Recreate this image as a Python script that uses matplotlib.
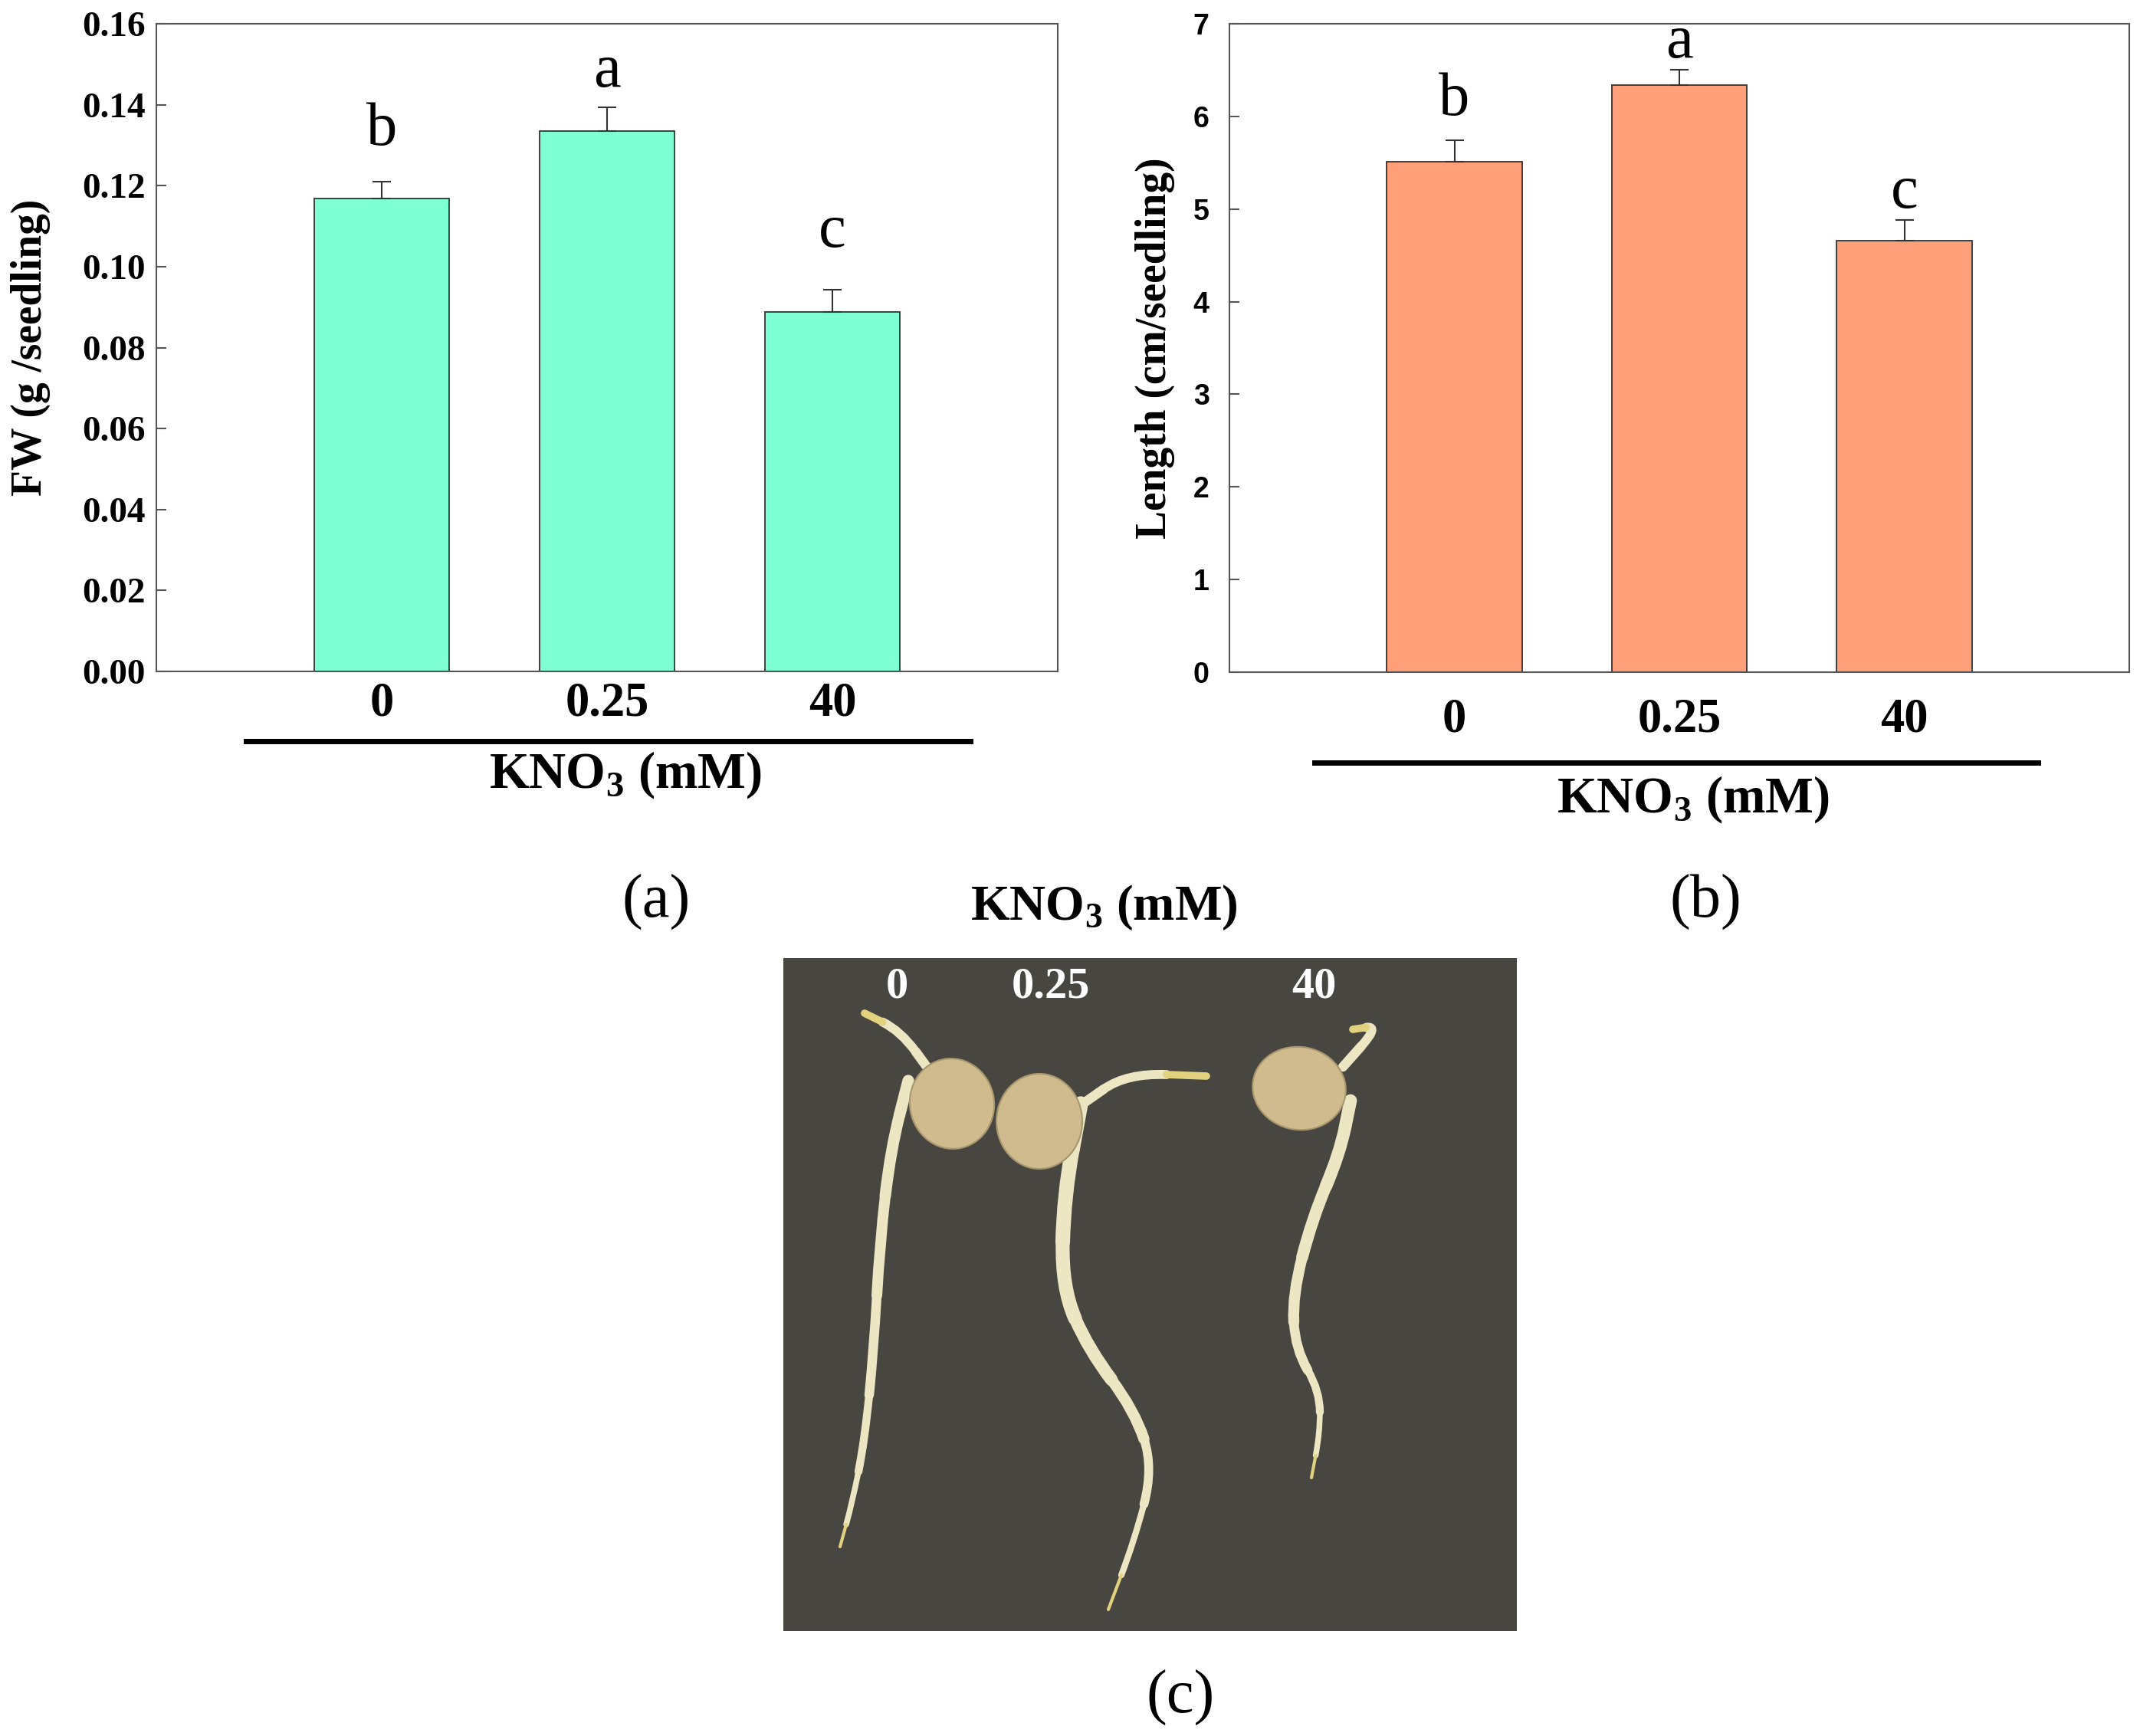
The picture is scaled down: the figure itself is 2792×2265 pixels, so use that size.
import matplotlib
matplotlib.use('Agg')
import matplotlib.pyplot as plt
from matplotlib.lines import Line2D
from matplotlib.patches import Ellipse, PathPatch
from matplotlib.path import Path

# ---------------- data ----------------
categories = ['0', '0.25', '40']
fw_values = [0.1168, 0.1335, 0.0888]
fw_errors = [0.0041, 0.0059, 0.0055]
fw_letters = ['b', 'a', 'c']
fw_letter_offsets = [35, 19, 40]      # points above error bar top
fw_yticks = [0.00, 0.02, 0.04, 0.06, 0.08, 0.10, 0.12, 0.14, 0.16]

len_values = [5.51, 6.34, 4.66]
len_errors = [0.23, 0.16, 0.22]
len_letters = ['b', 'a', 'c']
len_letter_offsets = [24, 12, 12]
len_yticks = [0, 1, 2, 3, 4, 5, 6, 7]

photo_labels = ['0', '0.25', '40']

# ---------------- style ----------------
plt.rcParams['font.family'] = ['Liberation Serif', 'DejaVu Serif']
plt.rcParams['mathtext.fontset'] = 'custom'
plt.rcParams['mathtext.rm'] = 'Liberation Serif'
plt.rcParams['mathtext.bf'] = 'Liberation Serif:bold'

W, H = 2792, 2265
fig = plt.figure(figsize=(W / 100, H / 100), dpi=100)


def rect(x0, y0, x1, y1):
    return [x0 / W, 1 - y1 / H, (x1 - x0) / W, (y1 - y0) / H]


def fpos(x, y):
    return x / W, 1 - y / H


SPINE = '#555555'
EDGE = '#333333'


def bar_panel(ax, values, errors, letters, offsets, color, yticks, ylim,
              ytick_fmt, ytick_font, ytick_size, ytick_pad, xtick_pad,
              ylabel, ylabel_x):
    x = list(range(len(values)))
    ax.bar(x, values, width=0.6, color=color, edgecolor=EDGE, linewidth=1.3,
           zorder=2)
    ax.errorbar(x, values, yerr=[[0] * len(errors), errors], fmt='none',
                ecolor=EDGE, elinewidth=1.5, capsize=8.5, capthick=1.5,
                zorder=3)
    for xi, v, e, lt, off in zip(x, values, errors, letters, offsets):
        ax.annotate(lt, xy=(xi, v + e), xytext=(0, off),
                    textcoords='offset points', ha='center', va='baseline',
                    fontsize=58, family='Liberation Serif')
    ax.set_xlim(-1, 3)
    ax.set_ylim(*ylim)
    ax.set_yticks(yticks)
    ax.set_yticklabels([ytick_fmt.format(t) for t in yticks],
                       family=ytick_font, fontweight='bold',
                       fontsize=ytick_size)
    ax.set_xticks(x)
    ax.set_xticklabels(categories, fontweight='bold', fontsize=45,
                       family='Liberation Serif')
    ax.tick_params(axis='y', direction='in', length=9, width=1.5,
                   color=SPINE, pad=ytick_pad, right=False)
    ax.tick_params(axis='x', length=0, pad=xtick_pad)
    for s in ax.spines.values():
        s.set_color(SPINE)
        s.set_linewidth(1.5)
    ax.set_ylabel(ylabel, fontsize=40, fontweight='bold',
                  family='Liberation Serif')
    ax.yaxis.label.set_verticalalignment('center')
    ax.yaxis.set_label_coords(ylabel_x, 0.5)


# ---------------- panel (a) ----------------
ax1 = fig.add_axes(rect(204, 31, 1380, 876))
bar_panel(ax1, fw_values, fw_errors, fw_letters, fw_letter_offsets,
          '#7FFFD4', fw_yticks, (0, 0.16), '{:.2f}', 'Liberation Serif',
          34, 10, 10, 'FW (g /seedling)', -0.1395)
ax1.add_line(Line2D([0.0995, 0.903], [-0.1077, -0.1077],
                    transform=ax1.transAxes, color='black', linewidth=5,
                    clip_on=False))
fig.text(*fpos(816, 1028), r'KNO$_\mathbf{3}$ (mM)', ha='center',
         va='baseline', fontsize=48, fontweight='bold')
fig.text(*fpos(856, 1177), '(a)', ha='center', va='center', fontsize=58)

# ---------------- panel (b) ----------------
ax2 = fig.add_axes(rect(1604, 31, 2778, 877))
bar_panel(ax2, len_values, len_errors, len_letters, len_letter_offsets,
          '#FFA07A', len_yticks, (0, 7), '{:d}', 'Liberation Sans',
          27, 19, 24, 'Length (cm/seedling)', -0.0826)
ax2.add_line(Line2D([0.0945, 0.8986], [-0.1395, -0.1395],
                    transform=ax2.transAxes, color='black', linewidth=5,
                    clip_on=False))
fig.text(*fpos(2209, 1060), r'KNO$_\mathbf{3}$ (mM)', ha='center',
         va='baseline', fontsize=48, fontweight='bold')
fig.text(*fpos(2225, 1177), '(b)', ha='center', va='center', fontsize=58)

# ---------------- panel (c): photo illustration ----------------
fig.text(*fpos(1440, 1200), r'KNO$_\mathbf{3}$ (mM)', ha='center',
         va='baseline', fontsize=47, fontweight='bold')
axp = fig.add_axes(rect(1022, 1250, 1979, 2128))
axp.set_facecolor('#474641')
axp.set_xlim(1022, 1979)
axp.set_ylim(2128, 1250)
axp.set_xticks([])
axp.set_yticks([])
for s in axp.spines.values():
    s.set_visible(False)

ROOT = '#ece6c2'
SEED = '#cfbb8e'
TIP = '#e2d27e'

# seedling sketches (illustration of the photograph), guide points
roots = [
    ([1185, 1162, 1148, 1140, 1128, 1112, 1096],
     [1410, 1500, 1620, 1760, 1880, 1960, 2018]),
    ([1410, 1388, 1385, 1420, 1480, 1505, 1480, 1446],
     [1440, 1560, 1680, 1760, 1840, 1915, 2010, 2100]),
    ([1762, 1748, 1712, 1686, 1690, 1722, 1722, 1711],
     [1436, 1505, 1590, 1690, 1760, 1815, 1870, 1928]),
]
root_widths = [(11, 3), (14, 3), (12, 3)]
shoots = [
    ([1215, 1175, 1128], [1400, 1345, 1322]),
    ([1410, 1470, 1574], [1442, 1400, 1404]),
    ([1752, 1800, 1765], [1392, 1338, 1343]),
]
seeds = [((1242, 1440), 110, 118, -10), ((1356, 1463), 112, 124, 0),
         ((1695, 1420), 122, 108, 10)]


def smooth_pieces(xs, ys):
    """Split a guide polyline into quadratic Bezier pieces (midpoint rule)."""
    pts = list(zip(xs, ys))
    mids = [((pts[i][0] + pts[i + 1][0]) / 2, (pts[i][1] + pts[i + 1][1]) / 2)
            for i in range(len(pts) - 1)]
    pieces = [Path([pts[0], mids[0]], [Path.MOVETO, Path.LINETO])]
    for i in range(1, len(pts) - 1):
        pieces.append(Path([mids[i - 1], pts[i], mids[i]],
                           [Path.MOVETO, Path.CURVE3, Path.CURVE3]))
    pieces.append(Path([mids[-1], pts[-1]], [Path.MOVETO, Path.LINETO]))
    return pieces


def draw_stem(ax, xs, ys, w0, w1, color, tipcolor=None):
    pieces = smooth_pieces(xs, ys)
    n = len(pieces)
    for i, p in enumerate(pieces):
        lw = w0 + (w1 - w0) * (i / (n - 1)) ** 2
        c = tipcolor if (tipcolor and i == n - 1) else color
        ax.add_patch(PathPatch(p, fill=False, edgecolor=c, linewidth=lw,
                               capstyle='round', joinstyle='round', zorder=2))


for (rx, ry), (w0, w1) in zip(roots, root_widths):
    draw_stem(axp, rx, ry, w0, w1, ROOT, TIP)
for (sx, sy) in shoots:
    draw_stem(axp, sx, sy, 9, 7, ROOT, TIP)
for (c, w, h, a) in seeds:
    axp.add_patch(Ellipse(c, w, h, angle=a, facecolor=SEED,
                          edgecolor='#a8966c', linewidth=1.5, zorder=3))

for lbl, px in zip(photo_labels, [1170, 1371, 1714]):
    axp.text(px, 1288, lbl, ha='center', va='center', color='white',
             fontsize=42, fontweight='bold')

fig.text(*fpos(1540, 2215), '(c)', ha='center', va='center', fontsize=58)

fig.savefig('out.png', dpi=100)
